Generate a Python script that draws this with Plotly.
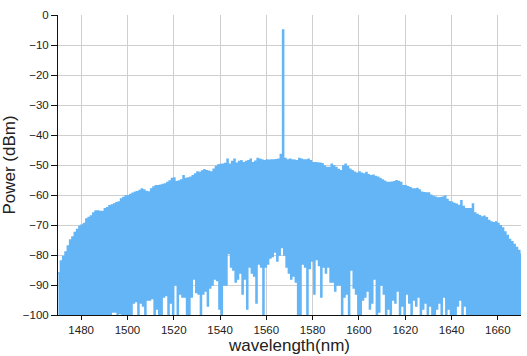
import plotly.graph_objects as go

# Peak (mode) power levels, one per nm from 1470 to 1670 nm
peak_start = 1470
peak_power = [
    -86, -82, -80.5, -79, -77, -75, -74, -72.5, -71.5, -70.5,
    -70, -69.5, -68, -67.5, -67, -66, -65.3, -65.3, -65.5, -65.5,
    -64.6, -64.2, -63.6, -63.3, -63, -62.6, -62.3, -61.3, -60.8, -60.3,
    -60.2, -59.8, -59.4, -59.1, -58.9, -58.5, -58, -58.3, -58.8, -59,
    -58, -57.3, -56.9, -56.9, -56.7, -56.5, -56.3, -55.8, -55.3, -54.5,
    -54.3, -55.6, -55.3, -55, -53.6, -54.5, -54.3, -54.1, -53.6, -53,
    -52.3, -52.5, -52, -51.6, -51.9, -52.1, -52.3, -51.4, -50.5, -50,
    -49.8, -49.7, -49.5, -48.1, -49.7, -48.8, -48.1, -49.4, -48.8, -48.6,
    -49.2, -48.8, -48.6, -48.1, -49.2, -48.7, -47.8, -48.1, -48.3, -48.6,
    -48.3, -48.4, -48.3, -48.3, -48.2, -48.1, -46.5, -5, -47.8, -48.3,
    -48.1, -48.3, -48.4, -48.6, -47.8, -48.1, -48.3, -48.3, -48.1, -48.6,
    -49.2, -49.2, -49.3, -49.4, -49.6, -50.3, -50.8, -50.8, -49.7, -50.2,
    -50.8, -51.5, -51.9, -50.3, -49.7, -50.6, -51.4, -51.9, -52.4, -52.7,
    -52.3, -52.7, -53, -52.5, -53.2, -53.6, -53.4, -53.8, -54.1, -54.5,
    -55, -55.4, -55.8, -55.8, -55.7, -55.6, -55.2, -55.5, -55.8, -56.9,
    -56.9, -57.2, -57.6, -58, -58, -57.8, -58.3, -59.1, -59.2, -59.3,
    -59.3, -60.1, -60.5, -60.7, -61, -60.9, -60.7, -60.3, -61.5, -62.2,
    -62.4, -62.8, -63.1, -63.5, -61.9, -63.8, -64.6, -64.6, -64.6, -63,
    -66, -66.5, -66.9, -67.3, -67.1, -67.6, -68.5, -69, -69.2, -69,
    -69.5, -70.2, -71, -72.3, -73.5, -74.8, -75.6, -76.5, -77.5, -78.5,
    -79.5,
]

# Trough (between-mode) power levels, one per nm from 1470.5 to 1669.5 nm
trough_start = 1470.5
trough_power = [
    -100, -100, -100, -100, -100, -100, -100, -100, -100, -100,
    -100, -100, -100, -100, -100, -100, -100, -100, -100, -100,
    -100, -100, -100, -99, -99, -100, -99.5, -100, -100, -100,
    -100, -100, -96, -95.5, -100, -96, -97, -100, -95, -95,
    -94.5, -100, -98, -100, -100, -94, -93.5, -100, -96, -100,
    -90, -100, -93, -94, -94, -100, -100, -94, -88, -92.5,
    -93, -100, -93, -92, -97, -91, -90, -88, -88.5, -98,
    -100, -90, -90, -79.5, -84, -85, -89, -88, -86, -93,
    -88, -98, -84, -86, -87, -96, -83, -84, -100, -84,
    -83, -81, -80.5, -79, -82, -80, -77.5, -80, -84, -86,
    -88, -87, -89, -100, -100, -83, -84, -100, -84.5, -82,
    -93, -81.5, -83.5, -94, -84, -86, -84, -89, -89, -92,
    -90, -90, -100, -94, -93, -100, -85, -91, -93, -100,
    -100, -95, -94, -92, -98, -96, -88, -100, -99, -90,
    -93, -100, -98, -100, -95, -96, -92, -100, -97, -100,
    -93, -96, -100, -95, -97, -94, -100, -98, -96, -100,
    -97, -100, -100, -98, -96, -100, -94, -100, -98, -100,
    -100, -100, -97, -95, -100, -97, -100, -100, -100, -100,
    -100, -100, -100, -100, -100, -100, -100, -100, -100, -100,
    -100, -100, -100, -100, -100, -100, -100, -100, -100, -100,
]

x_ticks = [1480, 1500, 1520, 1540, 1560, 1580, 1600, 1620, 1640, 1660]
y_ticks = [0, -10, -20, -30, -40, -50, -60, -70, -80, -90, -100]

peak_x = [peak_start + i for i in range(len(peak_power))]
trough_x = [trough_start + i for i in range(len(trough_power))]

xs, ys = [], []
for i in range(len(trough_power)):
    xs += [peak_x[i], trough_x[i]]
    ys += [peak_power[i], trough_power[i]]
xs.append(peak_x[-1])
ys.append(peak_power[-1])

fig = go.Figure(go.Scatter(
    x=xs, y=ys, mode="lines", line=dict(color="#64b5f6", width=1.4, shape="hv"),
    hoverinfo="skip",
))

font_family = "Liberation Sans"
fig.update_layout(
    width=527, height=356,
    margin=dict(l=58, r=6, t=15, b=39),
    paper_bgcolor="white", plot_bgcolor="white",
    showlegend=False,
    font=dict(family=font_family, size=11.5, color="#222"),
)
fig.update_xaxes(
    range=[1470, 1670], tickvals=x_ticks,
    showgrid=True, gridcolor="#cfcfcf", gridwidth=1,
    showline=True, linecolor="#111", linewidth=1,
    ticks="outside", ticklen=4, tickcolor="#111",
    zeroline=False,
    title=dict(text="wavelength(nm)", font=dict(size=17, family=font_family), standoff=2),
)
fig.update_yaxes(
    range=[-100, 0], tickvals=y_ticks,
    showgrid=True, gridcolor="#cfcfcf", gridwidth=1,
    showline=True, linecolor="#111", linewidth=1,
    ticks="outside", ticklen=6, tickcolor="#111",
    zeroline=False,
    title=dict(text="Power (dBm)", font=dict(size=17, family=font_family), standoff=4),
)

fig.write_html("out.html")
